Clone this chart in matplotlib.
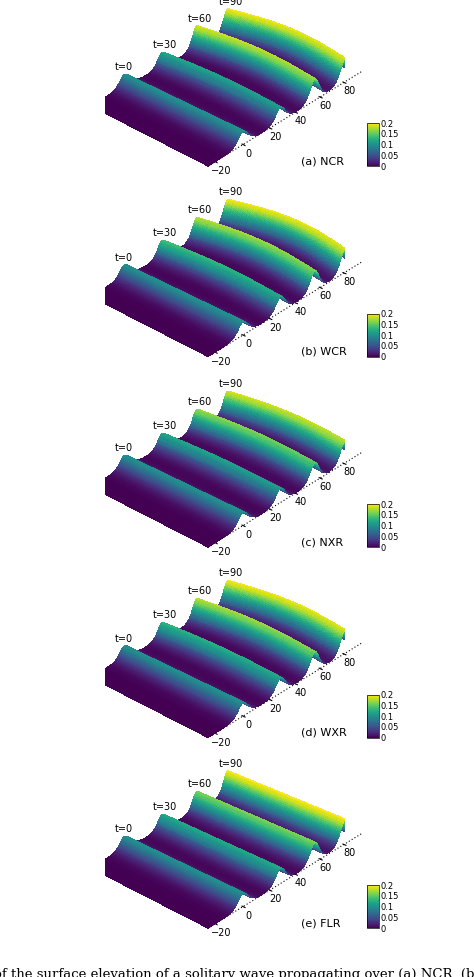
import numpy as np
import matplotlib
matplotlib.use("Agg")
import matplotlib.pyplot as plt
from matplotlib import cm

PANELS = ["(a) NCR", "(b) WCR", "(c) NXR", "(d) WXR", "(e) FLR"]
TIMES = ["t=0", "t=30", "t=60", "t=90"]
CENTERS = [0, 28, 55, 80]           # crest positions at each time
# crest amplitude at the near end / far end of the crest, per panel and time
AMP_NEAR = [[0.10, 0.11, 0.17, 0.19],
            [0.10, 0.12, 0.16, 0.19],
            [0.10, 0.11, 0.15, 0.18],
            [0.10, 0.12, 0.16, 0.19],
            [0.10, 0.12, 0.16, 0.20]]
AMP_FAR = [[0.10, 0.12, 0.19, 0.20],
           [0.10, 0.14, 0.18, 0.20],
           [0.10, 0.12, 0.17, 0.19],
           [0.10, 0.13, 0.18, 0.20],
           [0.10, 0.12, 0.16, 0.20]]
BEND = [6, 7, 4, 5, 0]              # sideways shift of crest along y
XTICKS = [-20, 0, 20, 40, 60, 80]
CBTICKS = [0, 0.05, 0.1, 0.15, 0.2]

fig = plt.figure(figsize=(4.74, 9.77), dpi=100)
x = np.linspace(-25, 95, 300)
y = np.linspace(0, 40, 60)
X, Y = np.meshgrid(x, y)
h = 0.195
for i, name in enumerate(PANELS):
    bottom = 1 - (i + 1) * h - 0.005
    ax = fig.add_axes([-0.05, bottom + 0.0, 1.05, h + 0.05], projection="3d")
    ax.patch.set_alpha(0)
    Z = np.zeros_like(X)
    for j, c in enumerate(CENTERS):
        s = Y / y.max()
        a = AMP_NEAR[i][j] * (1 - s) + AMP_FAR[i][j] * s
        cc = c + BEND[i] * (j / 3) * np.sin(np.pi * s)
        Z += a / np.cosh(0.2 * (X - cc)) ** 2
    ax.plot_surface(X, Y, Z, cmap=cm.viridis, vmin=0, vmax=0.2,
                    rstride=1, cstride=1, linewidth=0, antialiased=False)
    for j, c in enumerate(CENTERS):
        ax.text(c - 5, y.max() + 1, AMP_FAR[i][j] + 0.05, TIMES[j], fontsize=7)
    ax.view_init(elev=30, azim=-138)
    ax.set_box_aspect((1.9, 1.3, 0.3), zoom=1.15)
    ax.set_zlim(0, 0.25)
    ax.set_xlim(-25, 95)
    ax.set_ylim(0, 40)
    ax.set_xticks(XTICKS)
    ax.tick_params(axis="x", labelsize=7, pad=-4)
    ax.set_yticks([])
    ax.set_zticks([])
    for a in (ax.xaxis, ax.yaxis, ax.zaxis):
        a.set_pane_color((1, 1, 1, 0))
        a._axinfo["grid"]["linewidth"] = 0
    ax.yaxis.line.set_color((1, 1, 1, 0))
    ax.zaxis.line.set_color((1, 1, 1, 0))
    ax.xaxis.line.set_linestyle((0, (1, 2)))
    ax.grid(False)
    fig.text(0.635, bottom + 0.032, name, fontsize=8)
    cax = fig.add_axes([0.775, bottom + 0.03, 0.025, 0.044])
    sm = cm.ScalarMappable(cmap=cm.viridis, norm=plt.Normalize(0, 0.2))
    cb = fig.colorbar(sm, cax=cax, ticks=CBTICKS)
    cb.ax.set_yticklabels(["0", "0.05", "0.1", "0.15", "0.2"])
    cb.ax.tick_params(labelsize=6, length=0, pad=1)
    cb.outline.set_linewidth(0.5)

fig.text(0.5, -0.004, "of the surface elevation of a solitary wave propagating over (a) NCR, (b)",
         ha="center", va="bottom", fontsize=9.5, family="DejaVu Serif")
fig.savefig("out.png", dpi=100)
